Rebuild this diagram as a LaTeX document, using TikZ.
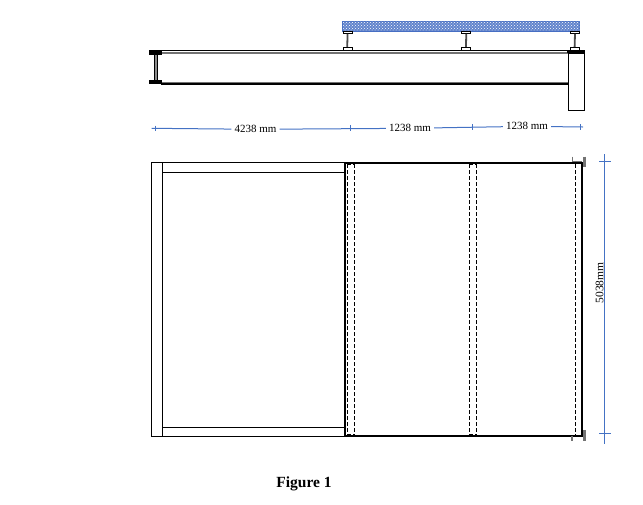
\documentclass[tikz,border=0pt]{standalone}
\usepackage{fontspec}
\setmainfont{Liberation Serif}
\usepackage{tikz}
\usetikzlibrary{calc, patterns}
\definecolor{dimblue}{RGB}{68,114,196}
\definecolor{slabblue}{RGB}{70,110,195}
\tikzset{
  dimline/.style={draw=dimblue, line width=1pt},
  dimtext/.style={inner sep=3pt, font=\fontsize{11}{12}\selectfont},
  thinline/.style={line width=1pt},
  thickline/.style={line width=1.6pt},
  hiddenline/.style={line width=0.8pt, dash pattern=on 3.5pt off 2.5pt},
  greyline/.style={draw=black!55, line width=1.3pt},
}
\newcommand{\purlin}[1]{%
  \draw[line width=1pt, fill=white] (#1-4.4,31.4) rectangle (#1+4.4,33.8);
  \draw[draw=black!70, line width=1.8pt] (#1,33.8) -- (#1-0.4,47.4);
  \draw[line width=1pt, fill=white] (#1-4.4,47.4) rectangle (#1+4.4,50);
}
\begin{document}
\begin{tikzpicture}[x=1pt, y=-1pt]
\useasboundingbox (0,0) rectangle (643,504);
% elevation
\coordinate (SlabA) at (342.3,21);
\coordinate (SlabB) at (579.3,30.7);

\draw[line width=0.4pt, draw=slabblue, fill=slabblue!85] (SlabA) rectangle (SlabB);
\fill[pattern=crosshatch dots, pattern color=white] (SlabA) rectangle (SlabB);
\purlin{347.6}
\purlin{466.3}
\purlin{575}

\draw[thinline] (161,50.6) -- (568,50.6);
\draw[greyline] (161,53) -- (568,53);
\draw[greyline] (161,82.2) -- (568,82.2);
\draw[thickline] (161,84) -- (568,84);
\fill (149.3,50.3) rectangle (161.7,54.7);
\fill (149.3,80) rectangle (161.7,84.4);
\draw[line width=0.7pt, fill=black!45] (154,54.7) rectangle (157.3,80);
\draw[thinline, fill=white] (568.3,53.3) rectangle (584.3,110);
\fill (567.3,50) rectangle (585,53.3);

% dimensions
\coordinate (TickA) at (155.3,128.3);
\coordinate (TickB) at (350.7,127.7);
\coordinate (TickC) at (472.6,127);
\coordinate (TickD) at (580,127);
\coordinate (EndD) at (583,127);
\coordinate (StartA) at (151.7,128.3);
\node[dimtext] (LabelA) at (255.5,129.3) {4238 mm};
\node[dimtext] (LabelB) at (410,128.3) {1238 mm};
\node[dimtext] (LabelC) at (527,126.3) {1238 mm};
\draw[dimline] (StartA) -- (LabelA);
\draw[dimline] (LabelA) -- (LabelB);
\draw[dimline] (LabelB) -- (LabelC);
\draw[dimline] (LabelC) -- (EndD);
\foreach \t in {TickA,TickB,TickC,TickD}
  \draw[dimblue, line width=0.7pt] ($(\t)+(0,-2.8)$) -- ($(\t)+(0,2.8)$);

% plan
\draw[thinline] (151.7,162.7) rectangle (162.7,436.3);
\draw[thinline] (162.7,162.7) -- (344.3,162.7);
\draw[thinline] (162.7,172.3) -- (344.3,172.3);
\draw[thinline] (162.7,427.3) -- (344.3,427.3);
\draw[thinline] (162.7,436.3) -- (344.3,436.3);
\draw[thickline] (345,162.7) rectangle (582,435.7);
\foreach \x in {347.3,354.7,469.3,476,575.7}
  \draw[hiddenline] (\x,164) -- (\x,435);
\draw[hiddenline] (347.3,164.5) -- (354.7,164.5);
\draw[hiddenline] (469.3,164.5) -- (476,164.5);
\draw[hiddenline] (347.3,434.5) -- (354.7,434.5);
\draw[hiddenline] (469.3,434.5) -- (476,434.5);

\draw[greyline] (572.3,156.7) -- (572.3,161.7) -- (582,161.7);
\draw[greyline, line width=2.4pt] (584.3,156.7) -- (584.3,167.3);
\draw[greyline] (572,435.7) -- (572,440.7);
\draw[greyline, line width=2.4pt] (584.3,430) -- (584.3,440.7);

\coordinate (DimTop) at (604.7,154.3);
\coordinate (DimBot) at (604.7,444.3);
\draw[dimline] (DimTop) -- (DimBot);
\draw[dimblue, line width=0.7pt] (599.3,161) -- (610.7,161);
\draw[dimblue, line width=0.7pt] (599.3,433.3) -- (610.7,433.3);
\node[dimtext, inner sep=0pt, rotate=90, font=\fontsize{11.5}{12}\selectfont] (LabelE) at (599.5,283) {5038mm};

\node[font=\fontsize{15.5}{17}\bfseries\selectfont] (Caption) at (304,484) {Figure 1};
\end{tikzpicture}
\end{document}
